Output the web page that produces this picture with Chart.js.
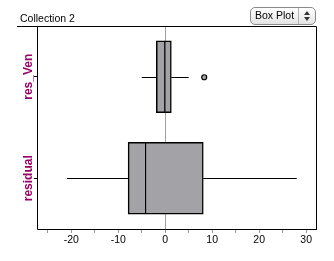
<!DOCTYPE html>
<html>
<head>
<meta charset="utf-8">
<script src="https://cdn.jsdelivr.net/npm/chart.js@4/dist/chart.umd.min.js"></script>
<style>
  html, body { margin:0; padding:0; background:#fff; }
  #wrap { position:relative; width:334px; height:261px; overflow:hidden; }
  #c { position:absolute; left:0; top:0; }
  #title { position:absolute; left:20px; top:12px; font:10.5px "Liberation Sans", Arial, sans-serif; color:#000; }
  #btn { position:absolute; left:250px; top:7px; width:64px; height:16px; border:1px solid #8a8a8a; border-radius:5px;
         background:linear-gradient(#ffffff, #e4e4e4); box-sizing:content-box; }
  #btn .lbl { position:absolute; left:4px; top:1px; font:10.5px "Liberation Sans", Arial, sans-serif; color:#000; white-space:nowrap; }
  #btn .sep { position:absolute; left:47px; top:0; width:1px; height:16px; background:#b0b0b0; }
  #btn .up { position:absolute; left:53px; top:3px; width:0; height:0; border-left:3px solid transparent; border-right:3px solid transparent; border-bottom:4px solid #333; }
  #btn .dn { position:absolute; left:53px; top:9px; width:0; height:0; border-left:3px solid transparent; border-right:3px solid transparent; border-top:4px solid #333; }
</style>
</head>
<body>
<div id="wrap">
  <canvas id="c" width="334" height="261"></canvas>
  <div id="title">Collection 2</div>
  <div id="btn"><span class="lbl">Box Plot</span><span class="sep"></span><span class="up"></span><span class="dn"></span></div>
</div>
<script>
const categories = ['res_Ven', 'residual'];
const whiskerLow = [-5.0, -20.9];
const q1 = [-1.9, -7.9];
const median = [-0.2, -4.3];
const q3 = [1.3, 8.1];
const whiskerHigh = [5.0, 28.0];
const outliers = [[8.3], []];
const xTicks = [-20, -10, 0, 10, 20, 30];

const boxFill = '#a3a2a7';

const boxPlotPlugin = {
  id: 'boxExtras',
  beforeDatasetsDraw(chart) {
    const ctx = chart.ctx, xs = chart.scales.x, ys = chart.scales.y;
    ctx.save();
    ctx.strokeStyle = '#000';
    ctx.lineWidth = 1.2;
    categories.forEach((c, i) => {
      const y = Math.round(ys.getPixelForValue(i)) + 0.5;
      ctx.beginPath();
      ctx.moveTo(xs.getPixelForValue(whiskerLow[i]), y);
      ctx.lineTo(xs.getPixelForValue(q1[i]), y);
      ctx.moveTo(xs.getPixelForValue(q3[i]), y);
      ctx.lineTo(xs.getPixelForValue(whiskerHigh[i]), y);
      ctx.stroke();
    });
    ctx.restore();
  },
  afterDatasetsDraw(chart) {
    const ctx = chart.ctx, xs = chart.scales.x, ys = chart.scales.y;
    ctx.save();
    categories.forEach((c, i) => {
      const y = ys.getPixelForValue(i);
      outliers[i].forEach(v => {
        ctx.beginPath();
        ctx.arc(xs.getPixelForValue(v), y + 0.5, 2.5, 0, Math.PI * 2);
        ctx.fillStyle = boxFill;
        ctx.fill();
        ctx.lineWidth = 1.2;
        ctx.strokeStyle = '#000';
        ctx.stroke();
      });
    });
    ctx.restore();
  },
  afterDraw(chart) {
    const ctx = chart.ctx, a = chart.chartArea;
    ctx.save();
    ctx.strokeStyle = '#000';
    ctx.lineWidth = 1;
    ctx.beginPath();
    const L = Math.round(a.left) + 0.5, R = Math.round(a.right) + 0.5;
    const T = Math.round(a.top) + 0.5, B = Math.round(a.bottom) + 0.5;
    ctx.moveTo(17, T); ctx.lineTo(R, T);
    ctx.moveTo(R, T); ctx.lineTo(R, B);
    ctx.moveTo(L, T); ctx.lineTo(L, B);
    ctx.moveTo(L, B); ctx.lineTo(R + 0.5, B);
    ctx.stroke();
    ctx.restore();
  }
};

const lower = categories.map((c, i) => [q1[i], median[i]]);
const upper = categories.map((c, i) => [median[i], q3[i]]);

new Chart(document.getElementById('c'), {
  type: 'bar',
  data: {
    labels: categories,
    datasets: [
      { data: lower, backgroundColor: boxFill, borderColor: '#000', borderWidth: { left: 1.5, top: 1.5, bottom: 1.5, right: 0 }, borderSkipped: false, barThickness: 72, grouped: false },
      { data: upper, backgroundColor: boxFill, borderColor: '#000', borderWidth: 1.5, borderSkipped: false, barThickness: 72, grouped: false }
    ]
  },
  options: {
    indexAxis: 'y',
    responsive: false,
    animation: false,
    devicePixelRatio: 1,
    layout: { padding: { left: 0, top: 26, right: 18, bottom: 0 } },
    plugins: { legend: { display: false }, tooltip: { enabled: false }, title: { display: false } },
    scales: {
      x: {
        type: 'linear',
        min: -27.3,
        max: 32.1,
        afterFit(s) { s.height = 32; },
        border: { display: false },
        grid: {
          drawOnChartArea: true,
          color: (ctx) => (ctx.tick && ctx.tick.value === 0) ? '#a0a0a0' : 'rgba(0,0,0,0)',
          tickColor: '#999999',
          tickLength: 4,
          lineWidth: 1
        },
        ticks: {
          stepSize: 5,
          includeBounds: false,
          autoSkip: false,
          maxRotation: 0,
          padding: 1,
          color: '#000',
          font: { family: '"Liberation Sans", Arial, sans-serif', size: 10.5 },
          callback: (v) => xTicks.includes(v) ? String(v) : ''
        }
      },
      y: {
        type: 'category',
        offset: true,
        afterFit(s) { s.width = 37; },
        border: { display: false },
        grid: { offset: false, drawOnChartArea: false, tickColor: '#000', tickLength: 3 },
        ticks: {
          minRotation: 90,
          maxRotation: 90,
          crossAlign: 'center',
          padding: -17.5,
          color: '#990066',
          font: { family: '"Liberation Sans", Arial, sans-serif', size: 12, weight: 'bold' }
        }
      }
    }
  },
  plugins: [boxPlotPlugin]
});
</script>
</body>
</html>
